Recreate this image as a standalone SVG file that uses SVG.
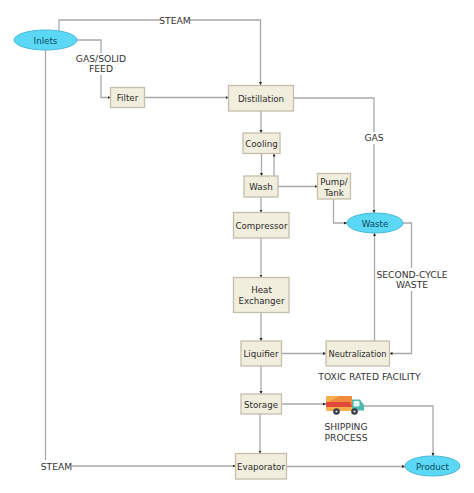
<svg xmlns="http://www.w3.org/2000/svg" width="474" height="493" viewBox="0 0 474 493">
<style>
text{font-family:"DejaVu Sans",Verdana,sans-serif;font-size:9.2px;fill:#333;text-anchor:middle}
.n rect{fill:#f2eedd;stroke:#c3bfab;stroke-width:1.3}
.n ellipse{fill:#5cd8f7;stroke:#47b8d2;stroke-width:1}
.n text{fill:#2b2b2b;font-size:8.7px}
.e text{fill:#0b4a5c}
#connectors path{fill:none;stroke:#a8a8a8;stroke-width:1.3;marker-end:url(#a)}
.l{fill:#fff}
</style>
<defs><marker id="a" markerUnits="userSpaceOnUse" markerWidth="4" markerHeight="4" refX="3" refY="1.500" orient="auto"><path d="M0 0L3 1.500L0 3Z" fill="#222"/></marker></defs>
<rect width="474" height="493" fill="#fff"/>
<g id="connectors">
<path d="M59 31V20H260.500V85"/>
<path d="M77 40H101V97.500H110.500"/>
<path d="M144.500 97.500H228.500"/>
<path d="M261 111V133"/>
<path d="M293.500 98H374V213"/>
<path d="M261.500 153.500V176"/>
<path d="M274 176V153.500"/>
<path d="M261 197V212.500"/>
<path d="M278 186.500H317.500"/>
<path d="M333.500 199V223H347"/>
<path d="M261 238V277.500"/>
<path d="M261 312.500V341"/>
<path d="M281.500 353.500H326"/>
<path d="M374.500 341V233"/>
<path d="M403 223H411.500V353.500H389.500"/>
<path d="M261 366V394"/>
<path d="M281.500 404H326"/>
<path d="M364 406H433V456"/>
<path d="M260 414V453.500"/>
<path d="M286.500 466.500H405"/>
<path d="M45.500 50V466H235.500"/>
</g>
<g id="labels">
<rect class="l" x="160" y="14" width="30" height="12"/><text x="175" y="23.500">STEAM</text>
<rect class="l" x="76" y="53" width="50" height="22"/><text x="101" y="61.500">GAS/SOLID</text><text x="101" y="72">FEED</text>
<rect class="l" x="364" y="132" width="20" height="12"/><text x="374" y="141">GAS</text>
<rect class="l" x="395" y="268" width="33" height="23"/><text x="412" y="277.500">SECOND-CYCLE</text><text x="412" y="288">WASTE</text>
<rect class="l" x="41" y="460" width="31" height="12"/><text x="56.500" y="469.500">STEAM</text>
<text x="369.500" y="379.500">TOXIC RATED FACILITY</text>
<text x="346" y="430">SHIPPING</text><text x="346" y="440.500">PROCESS</text>
</g>
<g id="inlets" class="n e"><ellipse cx="45.500" cy="40" rx="31.500" ry="10"/><text x="45.500" y="43.500">Inlets</text></g>
<g id="filter" class="n"><rect x="110.500" y="87.500" width="34" height="20"/><text x="127.500" y="101">Filter</text></g>
<g id="distillation" class="n"><rect x="228.500" y="85.500" width="65" height="25.500"/><text x="261" y="101.500">Distillation</text></g>
<g id="cooling" class="n"><rect x="243" y="133" width="37" height="20.500"/><text x="261.500" y="147">Cooling</text></g>
<g id="wash" class="n"><rect x="244" y="176" width="34" height="21"/><text x="261" y="189.500">Wash</text></g>
<g id="pump" class="n"><rect x="317.500" y="173.500" width="33" height="25.500"/><text x="334" y="185">Pump/</text><text x="334" y="195.500">Tank</text></g>
<g id="compressor" class="n"><rect x="233.500" y="212.500" width="55.500" height="25.500"/><text x="261.500" y="229">Compressor</text></g>
<g id="waste" class="n e"><ellipse cx="375" cy="223" rx="28" ry="10"/><text x="375" y="226.500">Waste</text></g>
<g id="heat" class="n"><rect x="233.500" y="277.500" width="55.500" height="35"/><text x="261.500" y="293">Heat</text><text x="261.500" y="304">Exchanger</text></g>
<g id="liquifier" class="n"><rect x="241" y="341" width="40.500" height="25"/><text x="261" y="357">Liquifier</text></g>
<g id="neutralization" class="n"><rect x="326" y="341" width="63.500" height="25"/><text x="357.500" y="357" textLength="58" lengthAdjust="spacingAndGlyphs">Neutralization</text></g>
<g id="storage" class="n"><rect x="241" y="394" width="40.500" height="20"/><text x="261" y="408">Storage</text></g>
<g id="truck">
<rect x="326" y="396" width="26" height="15" rx="1" fill="#f5b04c"/>
<path d="M326 403L340 396H352V407H326Z" fill="#f08a3c"/>
<path d="M326 402H350L352 407H326Z" fill="#e0483a"/>
<path d="M352 399.500H360L364 405V410.500H352Z" fill="#4fb8ad"/>
<rect x="353.500" y="401" width="6" height="5.500" rx="1" fill="#e6f6f4"/>
<circle cx="336.500" cy="411.500" r="3.300" fill="#3d3d4a"/><circle cx="336.500" cy="411.500" r="1.100" fill="#ddd"/>
<circle cx="354.500" cy="411.500" r="3.300" fill="#3d3d4a"/><circle cx="354.500" cy="411.500" r="1.100" fill="#ddd"/>
</g>
<g id="evaporator" class="n"><rect x="235.500" y="453.500" width="51" height="25.500"/><text x="261" y="470">Evaporator</text></g>
<g id="product" class="n e"><ellipse cx="432.500" cy="466" rx="27.500" ry="10"/><text x="432.500" y="469.500">Product</text></g>
</svg>
